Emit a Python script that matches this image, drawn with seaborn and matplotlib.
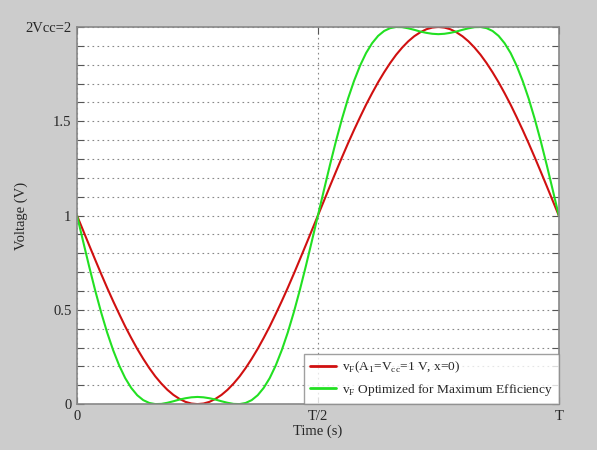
import matplotlib
matplotlib.use("Agg")
from matplotlib import pyplot as plt
import pandas as pd
import seaborn as sns

# time in fractions of the period T
t = [i / 80 for i in range(81)]

v_red = [1.000, 0.922, 0.844, 0.767, 0.691, 0.617, 0.546, 0.478, 0.412, 0.351,
         0.293, 0.240, 0.191, 0.147, 0.109, 0.076, 0.049, 0.028, 0.012, 0.003,
         0.000, 0.003, 0.012, 0.028, 0.049, 0.076, 0.109, 0.147, 0.191, 0.240,
         0.293, 0.351, 0.412, 0.478, 0.546, 0.617, 0.691, 0.767, 0.844, 0.922,
         1.000, 1.078, 1.156, 1.233, 1.309, 1.383, 1.454, 1.522, 1.588, 1.649,
         1.707, 1.760, 1.809, 1.853, 1.891, 1.924, 1.951, 1.972, 1.988, 1.997,
         2.000, 1.997, 1.988, 1.972, 1.951, 1.924, 1.891, 1.853, 1.809, 1.760,
         1.707, 1.649, 1.588, 1.522, 1.454, 1.383, 1.309, 1.233, 1.156, 1.078,
         1.000]

v_green = [1.000, 0.865, 0.732, 0.605, 0.487, 0.380, 0.286, 0.205, 0.138, 0.086,
           0.047, 0.021, 0.006, 0.000, 0.001, 0.007, 0.015, 0.024, 0.031, 0.036,
           0.038, 0.036, 0.031, 0.024, 0.015, 0.007, 0.001, 0.000, 0.006, 0.021,
           0.047, 0.086, 0.138, 0.205, 0.286, 0.380, 0.487, 0.605, 0.732, 0.865,
           1.000, 1.135, 1.268, 1.395, 1.513, 1.620, 1.714, 1.795, 1.862, 1.914,
           1.953, 1.979, 1.994, 2.000, 1.999, 1.993, 1.985, 1.976, 1.969, 1.964,
           1.962, 1.964, 1.969, 1.976, 1.985, 1.993, 1.999, 2.000, 1.994, 1.979,
           1.953, 1.914, 1.862, 1.795, 1.714, 1.620, 1.513, 1.395, 1.268, 1.135,
           1.000]

lbl_red = r'v$_\mathregular{F}$(A$_\mathregular{1}$=V$_\mathregular{cc}$=1 V, x=0)'
lbl_green = r'v$_\mathregular{F}$ Optimized for Maximum Efficiency'

df = pd.concat([
    pd.DataFrame({'t': t, 'v': v_red, 'curve': lbl_red}),
    pd.DataFrame({'t': t, 'v': v_green, 'curve': lbl_green}),
])

sns.set_style('white')
plt.rcParams['font.family'] = ['Liberation Serif', 'DejaVu Serif']
plt.rcParams['mathtext.fontset'] = 'custom'
plt.rcParams['mathtext.rm'] = 'Liberation Serif'

fig = plt.figure(figsize=(5.97, 4.5), dpi=100, facecolor='#cccccc')
ax = fig.add_axes([0.129, 0.102, 0.807, 0.838])

sns.lineplot(data=df, x='t', y='v', hue='curve', palette=['#d01010', '#22e022'],
             linewidth=1.5, ax=ax)

ax.set_xlim(0, 1)
ax.set_ylim(0, 2)
ax.set_xticks([0, 0.5, 1])
ax.set_xticklabels(['0', 'T/2', 'T'])
yt = [i / 10 for i in range(21)]
ax.set_yticks(yt)
ax.set_yticklabels(['0' if i == 0 else '0.5' if i == 5 else '1' if i == 10
                    else '1.5' if i == 15 else '2Vcc=2' if i == 20 else ''
                    for i in range(21)])
ax.tick_params(direction='in', length=5, color='#555555', labelsize=10.5,
               right=True, top=True, left=True, bottom=True, pad=4)
ax.grid(True, linestyle=(0, (1.5, 3)), color='#888888', linewidth=0.8)
for s in ax.spines.values():
    s.set_color('#888888')
    s.set_linewidth(1.2)

ax.set_xlabel('Time (s)', fontsize=10.5, labelpad=1)
ax.set_ylabel('Voltage (V)', fontsize=10.5)
ax.yaxis.set_label_coords(-0.102, 0.5)

leg = ax.legend(loc='lower right', borderaxespad=0, fontsize=9.6, frameon=True,
                fancybox=False, handlelength=2.0, handletextpad=0.4,
                borderpad=0.45, labelspacing=0.5)
leg.get_frame().set_edgecolor('#888888')
leg.get_frame().set_linewidth(1.0)
for h in leg.get_lines():
    h.set_linewidth(2.0)

plt.savefig('out.png', dpi=100, facecolor=fig.get_facecolor())
